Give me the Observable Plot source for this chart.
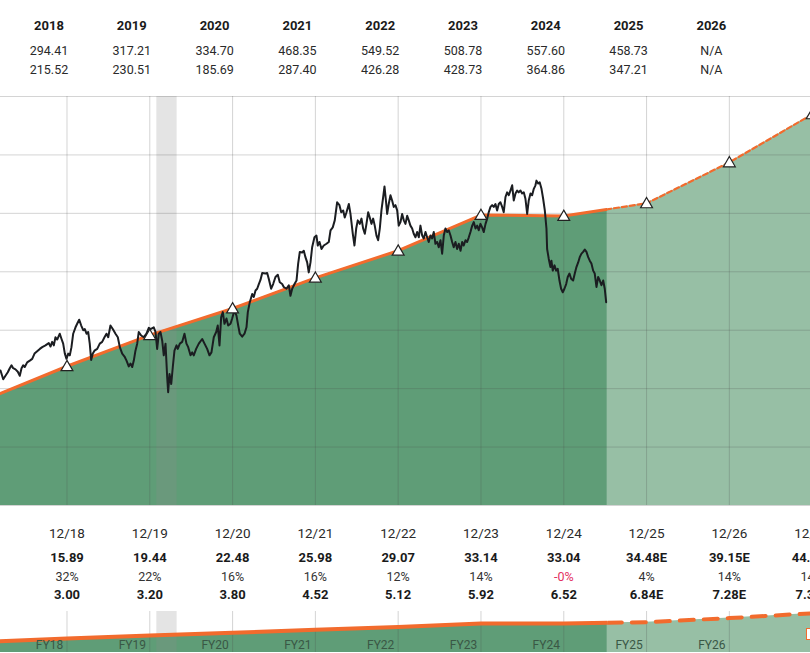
<!DOCTYPE html>
<html>
<head>
<meta charset="utf-8">
<script src="https://cdn.jsdelivr.net/npm/d3@7"></script>
<script src="https://cdn.jsdelivr.net/npm/@observablehq/plot@0.6"></script>
<style>
html, body { margin: 0; padding: 0; background: #fff; overflow: hidden; width: 810px; height: 653px; }
#wrap { position: relative; width: 810px; height: 653px; font-family: Roboto, "Noto Sans", sans-serif; }
.layer { position: absolute; left: 0; }
.layer svg { display: block; }
#handle { position: absolute; left: 806px; top: 628px; width: 10px; height: 12px; border: 1.5px solid #f26b2d; background: #fff; box-sizing: border-box; }
</style>
</head>
<body>
<div id="wrap">
  <div class="layer" id="top" style="top:0"></div>
  <div class="layer" id="main" style="top:95px"></div>
  <div class="layer" id="table" style="top:505px"></div>
  <div class="layer" id="mini" style="top:610px"></div>
  <div id="handle"></div>
</div>
<script>
// ---------- data ----------
const calendarYears = [2018, 2019, 2020, 2021, 2022, 2023, 2024, 2025, 2026];
const yearHigh = [294.41, 317.21, 334.70, 468.35, 549.52, 508.78, 557.60, 458.73, null];
const yearLow  = [215.52, 230.51, 185.69, 287.40, 426.28, 428.73, 364.86, 347.21, null];

// fiscal year ends (12/17 ... 12/27) as fractional years
const fyEnd = [2018, 2019, 2020, 2021, 2022, 2023, 2024, 2025, 2026, 2027, 2028];
const fyEps = [12.04, 15.89, 19.44, 22.48, 25.98, 29.07, 33.14, 33.04, 34.48, 39.15, 44.63];
const normalPE = 15;

// table rows (FY18 ... FY27)
const tableEnd = [2019, 2020, 2021, 2022, 2023, 2024, 2025, 2026, 2027, 2028];
const tableLabels = ["12/18", "12/19", "12/20", "12/21", "12/22", "12/23", "12/24", "12/25", "12/26", "12/27"];
const tableEps = [15.89, 19.44, 22.48, 25.98, 29.07, 33.14, 33.04, 34.48, 39.15, 44.63];
const growthLabels = ["32%", "22%", "16%", "16%", "12%", "14%", "-0%", "4%", "14%", "14%"];
const dividendValues = [3.00, 3.20, 3.80, 4.52, 5.12, 5.92, 6.52, 6.84, 7.28, 7.36];
const isEstimate = [false, false, false, false, false, false, false, true, true, true];
const fyNames = ["FY18", "FY19", "FY20", "FY21", "FY22", "FY23", "FY24", "FY25", "FY26"];

const gridValues = [0, 100, 200, 300, 400, 500, 600, 700];
const gridYears = [2019, 2020, 2021, 2022, 2023, 2024, 2025, 2026, 2027];
const recession = [[2020.085, 2020.33]];
const priceEndT = 2025.524;
const xDomain = [2018.197, 2027.98];

const priceTime = [
2018.197,2018.230,2018.257,2018.285,2018.309,2018.330,2018.350,2018.378,2018.406,2018.430,
2018.451,2018.471,2018.490,2018.519,2018.551,2018.580,2018.608,2018.640,2018.672,2018.701,
2018.740,2018.780,2018.801,2018.821,2018.841,2018.861,2018.882,2018.913,2018.934,2018.954,
2018.974,2018.994,2019.015,2019.034,2019.054,2019.075,2019.103,2019.123,2019.147,2019.172,
2019.196,2019.215,2019.236,2019.256,2019.275,2019.292,2019.312,2019.332,2019.365,2019.396,
2019.425,2019.453,2019.477,2019.498,2019.525,2019.553,2019.586,2019.614,2019.638,2019.667,
2019.695,2019.719,2019.746,2019.767,2019.788,2019.807,2019.827,2019.848,2019.867,2019.896,
2019.928,2019.960,2019.988,2020.009,2020.048,2020.069,2020.089,2020.109,2020.129,2020.150,
2020.169,2020.190,2020.210,2020.222,2020.238,2020.259,2020.278,2020.298,2020.323,2020.338,
2020.363,2020.391,2020.419,2020.443,2020.464,2020.492,2020.512,2020.531,2020.560,2020.592,
2020.633,2020.661,2020.693,2020.721,2020.745,2020.773,2020.802,2020.821,2020.842,2020.862,
2020.882,2020.902,2020.926,2020.947,2020.975,2020.995,2021.023,2021.047,2021.068,2021.087,
2021.116,2021.144,2021.168,2021.184,2021.208,2021.237,2021.256,2021.277,2021.297,2021.317,
2021.337,2021.358,2021.397,2021.418,2021.437,2021.466,2021.490,2021.518,2021.546,2021.570,
2021.599,2021.618,2021.651,2021.679,2021.699,2021.720,2021.748,2021.772,2021.792,2021.812,
2021.841,2021.860,2021.880,2021.901,2021.920,2021.941,2021.961,2021.989,2022.013,2022.029,
2022.050,2022.074,2022.101,2022.134,2022.162,2022.183,2022.210,2022.234,2022.263,2022.291,
2022.312,2022.336,2022.355,2022.376,2022.404,2022.424,2022.452,2022.472,2022.493,2022.512,
2022.536,2022.557,2022.577,2022.597,2022.617,2022.638,2022.657,2022.677,2022.698,2022.717,
2022.738,2022.758,2022.778,2022.798,2022.819,2022.835,2022.850,2022.867,2022.886,2022.907,
2022.927,2022.947,2022.967,2022.988,2023.007,2023.028,2023.048,2023.068,2023.088,2023.109,
2023.128,2023.148,2023.169,2023.188,2023.209,2023.229,2023.249,2023.269,2023.290,2023.309,
2023.330,2023.350,2023.369,2023.390,2023.410,2023.430,2023.450,2023.471,2023.490,2023.511,
2023.531,2023.551,2023.571,2023.592,2023.611,2023.632,2023.652,2023.671,2023.692,2023.712,
2023.732,2023.753,2023.773,2023.792,2023.813,2023.833,2023.853,2023.873,2023.894,2023.913,
2023.934,2023.954,2023.973,2023.994,2024.014,2024.034,2024.055,2024.075,2024.094,2024.115,
2024.135,2024.154,2024.175,2024.195,2024.215,2024.235,2024.256,2024.275,2024.296,2024.316,
2024.336,2024.356,2024.377,2024.396,2024.417,2024.437,2024.456,2024.477,2024.497,2024.517,
2024.537,2024.558,2024.577,2024.598,2024.618,2024.638,2024.658,2024.670,2024.691,2024.710,
2024.731,2024.751,2024.771,2024.791,2024.799,2024.819,2024.839,2024.851,2024.867,2024.888,
2024.908,2024.927,2024.948,2024.968,2024.988,2025.008,2025.029,2025.048,2025.069,2025.089,
2025.113,2025.133,2025.153,2025.174,2025.193,2025.214,2025.234,2025.254,2025.274,2025.295,
2025.314,2025.334,2025.355,2025.374,2025.395,2025.415,2025.435,2025.455,2025.476,2025.495,
2025.512
];
const priceClose = [
231,216,222,228,235,240,235,233,229,222,
235,240,237,245,248,251,260,264,268,271,
274,278,272,280,274,288,284,294,285,277,
260,251,260,257,271,294,305,311,318,308,
300,302,294,297,277,249,260,265,268,277,
280,288,294,288,308,302,294,288,271,260,
255,248,238,243,237,248,265,277,297,291,
288,294,304,302,305,297,268,294,297,282,
257,277,220,194,225,208,237,265,274,268,
277,280,294,277,271,257,262,257,268,277,
285,277,268,257,262,288,297,308,274,322,
331,311,320,308,311,320,334,325,308,294,
289,294,305,331,348,362,357,368,371,379,
386,398,397,398,388,371,379,391,395,382,
379,374,371,377,359,371,379,385,414,434,
433,436,425,416,399,416,442,459,462,445,
451,439,445,448,451,471,476,488,519,514,
502,505,493,502,516,499,465,445,474,488,
482,491,474,465,482,502,493,482,491,479,
462,454,474,505,528,546,525,499,516,531,
522,511,514,505,479,485,499,488,482,496,
488,479,474,465,459,468,459,479,462,457,
468,459,451,462,457,468,448,451,442,454,
431,462,474,468,471,462,451,442,451,439,
448,436,451,445,454,451,459,468,479,485,
474,479,471,482,476,468,482,491,502,511,
514,511,516,505,516,519,511,502,528,536,
531,539,548,522,534,539,536,539,534,536,
525,499,522,534,531,542,548,556,551,553,
542,525,505,474,439,422,408,419,402,411,
402,405,385,371,365,371,379,391,397,388,
385,397,408,416,425,431,434,438,434,425,
419,414,402,397,374,391,385,377,385,371,
348
];

// ---------- styling ----------
const W = 810;
const DARK = "#5f9d77";
const LIGHT = "#97bfa5";
const ORANGE = "#f26b2d";
const GRID = "#4d4d4d";
const FONT = "Roboto, 'Noto Sans', sans-serif";

const fv = fyEnd.map((t, i) => ({t, v: fyEps[i] * normalPE}));
const price = priceTime.map((t, i) => ({t, v: priceClose[i]}));
const fmt2 = d3.format(".2f");

function groups(svg) {
  return [...svg.children].filter(e => e.tagName.toLowerCase() === "g");
}
function addClips(svg, height, cut, id) {
  const ns = "http://www.w3.org/2000/svg";
  const defs = document.createElementNS(ns, "defs");
  defs.innerHTML =
    `<clipPath id="${id}-past"><rect x="-5" y="-5" width="${cut + 5}" height="${height + 10}"/></clipPath>` +
    `<clipPath id="${id}-future"><rect x="${cut}" y="-5" width="${W - cut + 20}" height="${height + 10}"/></clipPath>`;
  svg.insertBefore(defs, svg.firstChild);
}
const rowText = {frameAnchor: "top", lineAnchor: "middle"};

// ---------- top table ----------
const topChart = Plot.plot({
  width: W, height: 96, margin: 0,
  style: {fontFamily: FONT, background: "transparent"},
  x: {type: "linear", domain: xDomain, axis: null},
  marks: [
    Plot.text(calendarYears, {...rowText, x: d => d + 1, text: d => String(d), dy: 25.5, dx: -18,
      fontWeight: "bold", fontSize: 13, fill: "#1a1a1a"}),
    Plot.text(calendarYears, {...rowText, x: d => d + 1, text: (d, i) => yearHigh[i] == null ? "N/A" : fmt2(yearHigh[i]),
      dy: 50.5, dx: -18, fontSize: 12.5, fill: "#2a2a2a"}),
    Plot.text(calendarYears, {...rowText, x: d => d + 1, text: (d, i) => yearLow[i] == null ? "N/A" : fmt2(yearLow[i]),
      dy: 69, dx: -18, fontSize: 12.5, fill: "#2a2a2a"})
  ]
});
document.getElementById("top").appendChild(topChart);

// ---------- main chart ----------
const MAIN_H = 412;
const mainChart = Plot.plot({
  width: W, height: MAIN_H, marginTop: 1, marginBottom: 2, marginLeft: 0, marginRight: 0,
  style: {fontFamily: FONT, background: "transparent"},
  x: {type: "linear", domain: xDomain, axis: null},
  y: {domain: [0, 700], axis: null},
  marks: [
    Plot.areaY(fv, {x: "t", y: "v", fill: LIGHT}),
    Plot.areaY(fv, {x: "t", y: "v", fill: DARK}),
    Plot.rect(recession, {x1: d => d[0], x2: d => d[1], fill: "#8f8f8f", fillOpacity: 0.24}),
    Plot.ruleY(gridValues, {stroke: GRID, strokeOpacity: 0.24, strokeWidth: 1}),
    Plot.ruleX(gridYears, {stroke: GRID, strokeOpacity: 0.24, strokeWidth: 1}),
    Plot.line(fv, {x: "t", y: "v", stroke: ORANGE, strokeWidth: 2.2, strokeDasharray: "5,3"}),
    Plot.line(fv, {x: "t", y: "v", stroke: ORANGE, strokeWidth: 3}),
    Plot.line(price, {x: "t", y: "v", stroke: "#1b1d21", strokeWidth: 2, strokeLinejoin: "round"}),
    Plot.dot(fv.slice(1), {x: "t", y: "v", symbol: "triangle", r: 4.4, dy: 1, fill: "white", stroke: "#222", strokeWidth: 1.2})
  ]
});
{
  const cut = mainChart.scale("x").apply(priceEndT);
  addClips(mainChart, MAIN_H, cut, "m");
  const g = groups(mainChart);
  if (g.length >= 9) {
    g[1].setAttribute("clip-path", "url(#m-past)");
    g[5].setAttribute("clip-path", "url(#m-future)");
    g[6].setAttribute("clip-path", "url(#m-past)");
  }
}
document.getElementById("main").appendChild(mainChart);

// ---------- bottom table ----------
const tableChart = Plot.plot({
  width: W, height: 100, margin: 0,
  style: {fontFamily: FONT, background: "transparent"},
  x: {type: "linear", domain: xDomain, axis: null},
  marks: [
    Plot.text(tableLabels, {...rowText, x: (d, i) => tableEnd[i], text: d => d, dy: 28,
      fontSize: 13.5, fill: "#2a2a2a"}),
    Plot.text(tableLabels, {...rowText, x: (d, i) => tableEnd[i], text: (d, i) => fmt2(tableEps[i]) + (isEstimate[i] ? "E" : ""),
      dy: 52.7, fontSize: 13, fontWeight: "bold", fill: "#1a1a1a"}),
    Plot.text(tableLabels, {...rowText, x: (d, i) => tableEnd[i], text: (d, i) => growthLabels[i],
      dy: 71, fontSize: 12.5,
      fill: (d, i) => growthLabels[i].startsWith("-") ? "#e3305f" : "#333333"}),
    Plot.text(tableLabels, {...rowText, x: (d, i) => tableEnd[i], text: (d, i) => fmt2(dividendValues[i]) + (isEstimate[i] ? "E" : ""),
      dy: 89, fontSize: 13, fontWeight: "bold", fill: "#1a1a1a"})
  ]
});
document.getElementById("table").appendChild(tableChart);

// ---------- mini overview chart ----------
const MINI_H = 43;
const miniChart = Plot.plot({
  width: W, height: MINI_H, marginTop: 1, marginBottom: 1, marginLeft: 0, marginRight: 0,
  style: {fontFamily: FONT, background: "transparent"},
  x: {type: "linear", domain: xDomain, axis: null},
  y: {domain: [0, 700], axis: null},
  marks: [
    Plot.areaY(fv, {x: "t", y: "v", fill: LIGHT}),
    Plot.areaY(fv, {x: "t", y: "v", fill: DARK}),
    Plot.rect(recession, {x1: d => d[0], x2: d => d[1], fill: "#8f8f8f", fillOpacity: 0.24}),
    Plot.ruleX(gridYears, {stroke: GRID, strokeOpacity: 0.24, strokeWidth: 1}),
    Plot.line(fv, {x: "t", y: "v", stroke: ORANGE, strokeWidth: 4, strokeDasharray: "14,10"}),
    Plot.line(fv, {x: "t", y: "v", stroke: ORANGE, strokeWidth: 4}),
    Plot.text(fyNames, {...rowText, x: (d, i) => gridYears[i], text: d => d, dx: -17.5, dy: 33.3,
      fontSize: 12, fill: "#3a5745"})
  ]
});
{
  const cut = miniChart.scale("x").apply(priceEndT);
  addClips(miniChart, MINI_H, cut, "n");
  const g = groups(miniChart);
  if (g.length >= 7) {
    g[1].setAttribute("clip-path", "url(#n-past)");
    g[4].setAttribute("clip-path", "url(#n-future)");
    g[5].setAttribute("clip-path", "url(#n-past)");
  }
}
document.getElementById("mini").appendChild(miniChart);
</script>
</body>
</html>
